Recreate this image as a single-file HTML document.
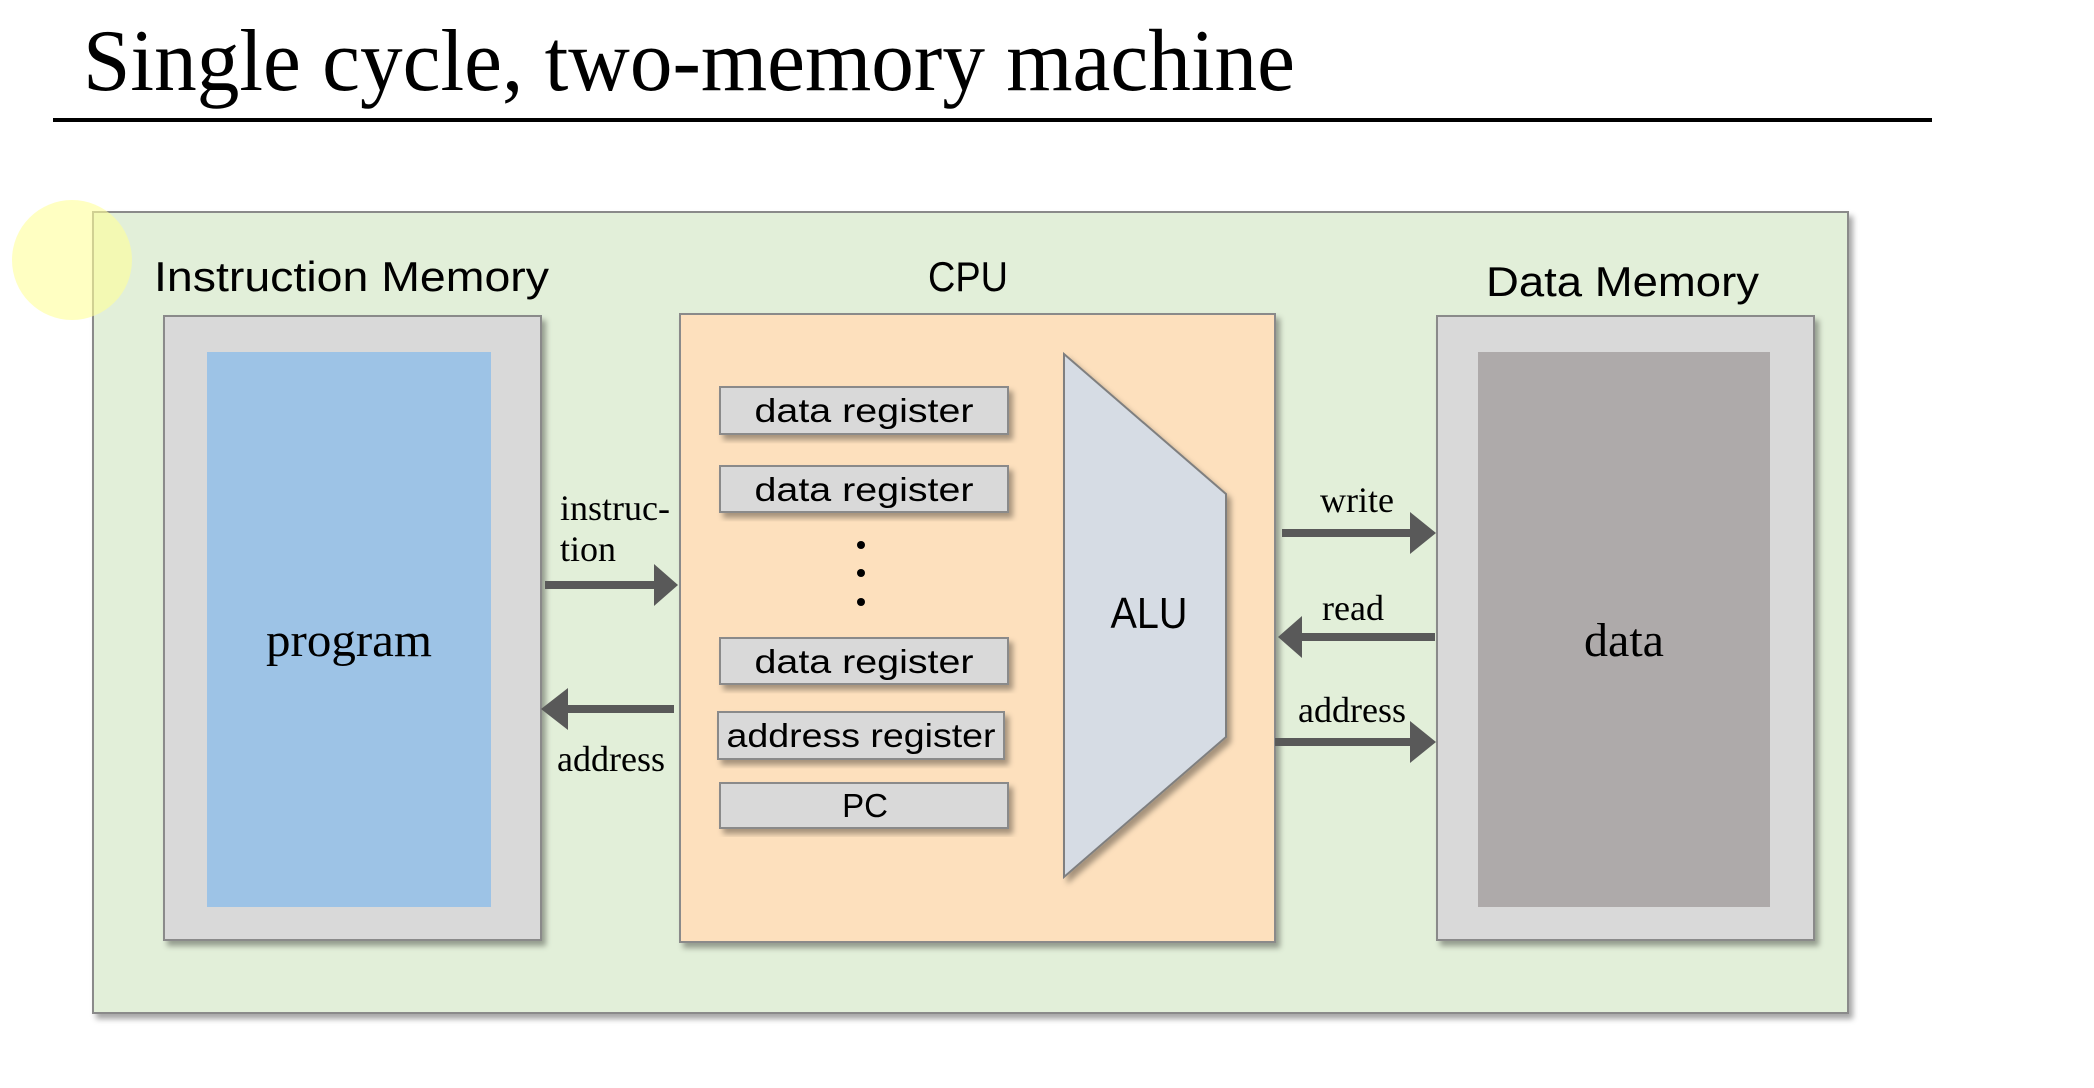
<!DOCTYPE html>
<html><head><meta charset="utf-8"><style>
html,body{margin:0;padding:0;background:#fff;}
svg{display:block;}
</style></head><body>
<svg width="2094" height="1088" viewBox="0 0 2094 1088" xmlns="http://www.w3.org/2000/svg">
<defs>
<filter id="sh" x="-10%" y="-10%" width="130%" height="130%">
<feDropShadow dx="4" dy="5" stdDeviation="3" flood-color="#000" flood-opacity="0.35"/>
</filter>
</defs>
<text x="83" y="90" font-family="Liberation Serif, serif" font-size="88" textLength="1212" lengthAdjust="spacingAndGlyphs" fill="#000">Single cycle, two-memory machine</text>
<rect x="53" y="118" width="1879" height="4" fill="#000"/>

<rect x="93" y="212" width="1755" height="801" fill="#e2efd9" stroke="#8a8a8a" stroke-width="2" filter="url(#sh)"/>
<circle cx="72" cy="260" r="60" fill="#ffff99" opacity="0.6"/>

<g font-family="Liberation Sans, sans-serif" fill="#000">
<text x="154" y="291" font-size="42" textLength="395" lengthAdjust="spacingAndGlyphs">Instruction Memory</text>
<text x="928" y="291" font-size="42" textLength="80" lengthAdjust="spacingAndGlyphs">CPU</text>
<text x="1486" y="296" font-size="42" textLength="273" lengthAdjust="spacingAndGlyphs">Data Memory</text>
</g>

<rect x="164" y="316" width="377" height="624" fill="#d9d9d9" stroke="#8a8a8a" stroke-width="2" filter="url(#sh)"/>
<rect x="207" y="352" width="284" height="555" fill="#9dc3e6"/>
<text x="349" y="656" text-anchor="middle" font-family="Liberation Serif, serif" font-size="48" textLength="166" lengthAdjust="spacingAndGlyphs">program</text>

<rect x="1437" y="316" width="377" height="624" fill="#d9d9d9" stroke="#8a8a8a" stroke-width="2" filter="url(#sh)"/>
<rect x="1478" y="352" width="292" height="555" fill="#aeaaaa"/>
<text x="1624" y="656" text-anchor="middle" font-family="Liberation Serif, serif" font-size="48" textLength="80" lengthAdjust="spacingAndGlyphs">data</text>

<rect x="680" y="314" width="595" height="628" fill="#fde0bd" stroke="#8a8a8a" stroke-width="2" filter="url(#sh)"/>

<g font-family="Liberation Sans, sans-serif" font-size="33" fill="#000" text-anchor="middle">
<rect x="720" y="387" width="288" height="47" fill="#d9d9d9" stroke="#8a8a8a" stroke-width="2" filter="url(#sh)"/>
<text x="864" y="422" textLength="219" lengthAdjust="spacingAndGlyphs">data register</text>
<rect x="720" y="466" width="288" height="46" fill="#d9d9d9" stroke="#8a8a8a" stroke-width="2" filter="url(#sh)"/>
<text x="864" y="501" textLength="219" lengthAdjust="spacingAndGlyphs">data register</text>
<rect x="720" y="638" width="288" height="46" fill="#d9d9d9" stroke="#8a8a8a" stroke-width="2" filter="url(#sh)"/>
<text x="864" y="673" textLength="219" lengthAdjust="spacingAndGlyphs">data register</text>
<rect x="718" y="712" width="286" height="47" fill="#d9d9d9" stroke="#8a8a8a" stroke-width="2" filter="url(#sh)"/>
<text x="861" y="747" textLength="269" lengthAdjust="spacingAndGlyphs">address register</text>
<rect x="720" y="783" width="288" height="45" fill="#d9d9d9" stroke="#8a8a8a" stroke-width="2" filter="url(#sh)"/>
<text x="865" y="817">PC</text>
</g>
<circle cx="861" cy="545" r="4" fill="#000"/>
<circle cx="861" cy="573" r="4" fill="#000"/>
<circle cx="861" cy="602" r="4" fill="#000"/>

<polygon points="1064,354 1226,494 1226,737 1064,877" fill="#d6dce4" stroke="#7f7f7f" stroke-width="2" filter="url(#sh)"/>
<text x="1149" y="628" text-anchor="middle" font-family="Liberation Sans, sans-serif" font-size="44" textLength="77" lengthAdjust="spacingAndGlyphs">ALU</text>

<g fill="#595959">
<rect x="545" y="581" width="112" height="8"/><polygon points="654,564 678,585 654,606"/>
<rect x="565" y="705" width="109" height="8"/><polygon points="568,688 541,709 568,730"/>
<rect x="1282" y="529" width="130" height="8"/><polygon points="1410,512 1436,533 1410,554"/>
<rect x="1300" y="633" width="135" height="8"/><polygon points="1302,616 1278,637 1302,658"/>
<rect x="1275" y="738" width="137" height="8"/><polygon points="1410,721 1436,742 1410,763"/>
</g>

<g font-family="Liberation Serif, serif" font-size="36" fill="#000">
<text x="560" y="520">instruc-</text>
<text x="560" y="561">tion</text>
<text x="557" y="771">address</text>
<text x="1357" y="512" text-anchor="middle">write</text>
<text x="1353" y="620" text-anchor="middle">read</text>
<text x="1352" y="722" text-anchor="middle">address</text>
</g>
</svg>
</body></html>
